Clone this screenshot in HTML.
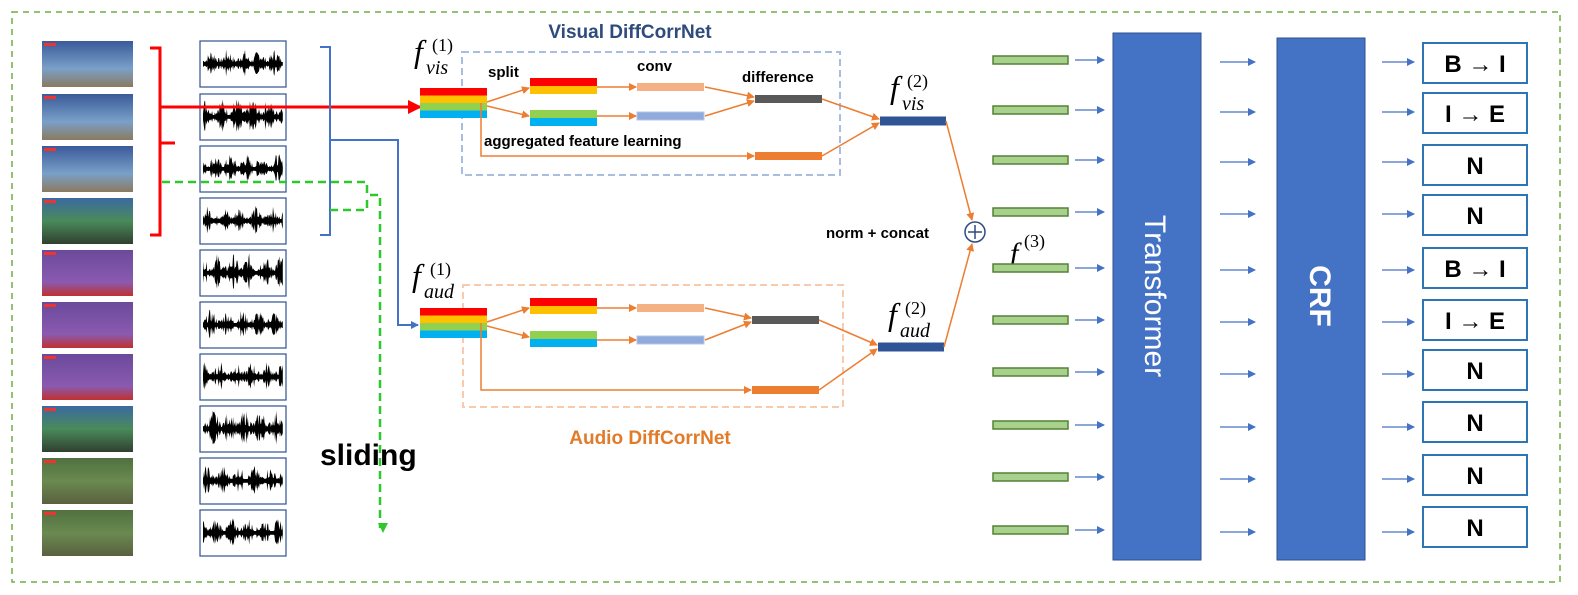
<!DOCTYPE html>
<html><head><meta charset="utf-8"><style>
html,body{margin:0;padding:0;background:#fff;}
svg{display:block;font-family:"Liberation Sans",sans-serif;}
</style></head><body>
<svg id="s" width="1578" height="595" viewBox="0 0 1578 595" xmlns="http://www.w3.org/2000/svg">
<defs>
<marker id="ao" markerWidth="8" markerHeight="8" refX="7" refY="4" orient="auto" markerUnits="userSpaceOnUse"><path d="M0,0 L8,4 L0,8 z" fill="#ed7d31"/></marker>
<marker id="ab" markerWidth="8" markerHeight="8" refX="7" refY="4" orient="auto" markerUnits="userSpaceOnUse"><path d="M0,0 L8,4 L0,8 z" fill="#4472c4"/></marker>
<marker id="ar" markerWidth="14" markerHeight="14" refX="12" refY="7" orient="auto" markerUnits="userSpaceOnUse"><path d="M0,0 L14,7 L0,14 z" fill="#f00"/></marker>
<marker id="ag" markerWidth="10" markerHeight="10" refX="5" refY="8" orient="auto" markerUnits="userSpaceOnUse"><path d="M0,0 L10,5 L0,10 z" fill="#2ec82e"/></marker>
<linearGradient id="t1" x1="0" y1="0" x2="0" y2="1"><stop offset="0" stop-color="#3a5a9a"/><stop offset="0.6" stop-color="#7aa0c8"/><stop offset="1" stop-color="#8a7a60"/></linearGradient>
<linearGradient id="t2" x1="0" y1="0" x2="0" y2="1"><stop offset="0" stop-color="#3a6aa0"/><stop offset="0.5" stop-color="#4a8a5a"/><stop offset="1" stop-color="#304030"/></linearGradient>
<linearGradient id="t3" x1="0" y1="0" x2="0" y2="1"><stop offset="0" stop-color="#6a4a9a"/><stop offset="0.7" stop-color="#8a5ab0"/><stop offset="1" stop-color="#c03030"/></linearGradient>
<linearGradient id="t4" x1="0" y1="0" x2="0" y2="1"><stop offset="0" stop-color="#507040"/><stop offset="0.5" stop-color="#6a8a50"/><stop offset="1" stop-color="#5a6040"/></linearGradient>
</defs>
<rect x="12" y="12" width="1548" height="570" fill="none" stroke="#70ad47" stroke-width="1.5" stroke-dasharray="6,5"/>
<g id="thumbs"></g>
<g id="waves"></g>
<path d="M150,48 H160 V235 H150 M160,143 H175" fill="none" stroke="#f00" stroke-width="3"/>
<line x1="160" y1="107" x2="420" y2="107" stroke="#f00" stroke-width="3" marker-end="url(#ar)"/>
<path d="M320,47 H330 V235 H320 M330,140 H398 V325 H418" fill="none" stroke="#4472c4" stroke-width="2" marker-end="url(#ab)"/>
<path d="M162,182 H367 V195 H380 V528" fill="none" stroke="#2ec82e" stroke-width="2.5" stroke-dasharray="8,5" marker-end="url(#ag)"/>
<path d="M330,210 H367 V195" fill="none" stroke="#2ec82e" stroke-width="2.5" stroke-dasharray="8,5"/>
<text x="320" y="465" font-size="30" font-weight="bold">sliding</text>
<text x="630" y="38" font-size="19" font-weight="bold" fill="#2f4b7c" text-anchor="middle">Visual DiffCorrNet</text>
<rect x="462" y="52" width="378" height="123" fill="none" stroke="#a9bde0" stroke-width="2" stroke-dasharray="7,4"/>
<g font-family="Liberation Serif" font-style="italic">
<text x="414" y="62" font-size="32">f</text><text x="426" y="74" font-size="20">vis</text>
<text x="412" y="286" font-size="32">f</text><text x="424" y="298" font-size="20">aud</text>
<text x="890" y="98" font-size="32">f</text><text x="902" y="110" font-size="20">vis</text>
<text x="888" y="325" font-size="32">f</text><text x="900" y="337" font-size="20">aud</text>
<text x="1010" y="263" font-size="30">f</text>
</g>
<g font-family="Liberation Serif" font-size="18">
<text x="432" y="51">(1)</text><text x="430" y="275">(1)</text>
<text x="907" y="87">(2)</text><text x="905" y="314">(2)</text>
<text x="1024" y="247">(3)</text>
</g>
<g id="vis"></g>
<text x="488" y="77" font-size="15" font-weight="bold">split</text>
<text x="637" y="71" font-size="15" font-weight="bold">conv</text>
<text x="742" y="82" font-size="15" font-weight="bold">difference</text>
<text x="484" y="146" font-size="15" font-weight="bold">aggregated feature learning</text>
<rect x="463" y="285" width="380" height="122" fill="none" stroke="#f8cbad" stroke-width="2" stroke-dasharray="7,4"/>
<text x="650" y="444" font-size="19" font-weight="bold" fill="#e07b2a" text-anchor="middle">Audio DiffCorrNet</text>
<g id="aud"></g>
<text x="826" y="238" font-size="15" font-weight="bold">norm + concat</text>
<circle cx="975" cy="232" r="10" fill="#fff" stroke="#2f4b7c" stroke-width="1.5"/>
<path d="M968,232 H982 M975,225 V239" stroke="#2f4b7c" stroke-width="1.5"/>
<line x1="946" y1="121" x2="972" y2="220" stroke="#ed7d31" stroke-width="1.5" marker-end="url(#ao)"/>
<line x1="944" y1="347" x2="972" y2="244" stroke="#ed7d31" stroke-width="1.5" marker-end="url(#ao)"/>
<g id="right"></g>
<rect x="1113" y="33" width="88" height="527" fill="#4472c4" stroke="#2f528f"/>
<text transform="translate(1145,296) rotate(90)" font-size="30" fill="#fff" text-anchor="middle">Transformer</text>
<rect x="1277" y="38" width="88" height="522" fill="#4472c4" stroke="#2f528f"/>
<text transform="translate(1310,296) rotate(90)" font-size="30" fill="#fff" text-anchor="middle" font-weight="bold">CRF</text>
</svg>
<script>
var NS="http://www.w3.org/2000/svg";
function el(p,t,a){var e=document.createElementNS(NS,t);for(var k in a)e.setAttribute(k,a[k]);p.appendChild(e);return e;}
var seed=7;function rnd(){seed=(seed*9301+49297)%233280;return seed/233280;}
var th=document.getElementById('thumbs'),wv=document.getElementById('waves');
var ys=[41,94,146,198,250,302,354,406,458,510];
var g=['t1','t1','t1','t2','t3','t3','t3','t2','t4','t4'];
ys.forEach(function(y,i){
 el(th,'rect',{x:42,y:y,width:91,height:46,fill:'url(#'+g[i]+')'});
 el(th,'rect',{x:44,y:y+2,width:12,height:3,fill:'#e33'});
 el(wv,'rect',{x:200,y:y,width:86,height:46,fill:'#fff',stroke:'#2f528f','stroke-width':1.2});
 var cy=y+23,amp=(i%3==1)?20:16;
 var pts=[];for(var x=203;x<=283;x+=0.7){var env=0.35+0.65*Math.pow(Math.abs(Math.sin(x/5+i*1.3)),2);var a=amp*env*(0.2+0.8*Math.pow(rnd(),1.5));pts.push([x,Math.max(2,a)]);}
 var d='M'+pts.map(function(p){return p[0].toFixed(1)+','+(cy-p[1]).toFixed(1);}).join(' L')+' L'+pts.slice().reverse().map(function(p){return p[0].toFixed(1)+','+(cy+p[1]*0.85).toFixed(1);}).join(' L')+'Z';
 el(wv,'path',{d:d,fill:'#000'});
});
function stack(p,x,y){var c=['#f00','#ffc000','#92d050','#00b0f0'];c.forEach(function(col,i){el(p,'rect',{x:x,y:y+i*7.5,width:67,height:7.5,fill:col});});}
function pair(p,x,y,c1,c2){el(p,'rect',{x:x,y:y,width:67,height:8,fill:c1});el(p,'rect',{x:x,y:y+8,width:67,height:8,fill:c2});}
function bar(p,x,y,c,w,h){el(p,'rect',{x:x,y:y-(h||8)/2,width:w||67,height:h||8,fill:c});}
function ar(p,x1,y1,x2,y2){el(p,'line',{x1:x1,y1:y1,x2:x2,y2:y2,stroke:'#ed7d31','stroke-width':1.5,'marker-end':'url(#ao)'});}
function net(id,sy,b1,b2,conv1,conv2,dif,org,out,dx,ox){
 var p=document.getElementById(id);
 stack(p,420,sy);
 pair(p,530,b1,'#f00','#ffc000');pair(p,530,b2,'#92d050','#00b0f0');
 ar(p,487,sy+14,529,b1+10);ar(p,487,sy+18,529,b2+6);
 bar(p,637,conv1,'#f4b183');bar(p,637,conv2,'#8faadc');
 el(p,'rect',{x:637,y:conv2-4,width:67,height:8,fill:'none',stroke:'#b4c7e7'});
 ar(p,597,conv1,636,conv1);ar(p,597,conv2,636,conv2);
 bar(p,dx,dif,'#595959');ar(p,705,conv1,dx-1,dif-2);ar(p,705,conv2,dx-1,dif+2);
 bar(p,dx,org,'#ed7d31');
 el(p,'path',{d:'M481,'+(sy+15)+' V'+org+' H'+(dx-1),fill:'none',stroke:'#ed7d31','stroke-width':1.5,'marker-end':'url(#ao)'});
 bar(p,ox,out,'#2f5597',66,9);
 ar(p,dx+67,dif,ox-1,out-2);ar(p,dx+67,org,ox-1,out+2);
}
net('vis',88,78,110,87,116,99,156,121,755,880);
net('aud',308,298,331,308,340,320,390,347,752,878);
var r=document.getElementById('right');
var gy=[60,110,160,212,268,320,372,425,477,530];
gy.forEach(function(y){
 el(r,'rect',{x:993,y:y-4,width:75,height:8,fill:'#a9d18e',stroke:'#548235','stroke-width':1.5});
 el(r,'line',{x1:1075,y1:y,x2:1104,y2:y,stroke:'#4472c4','stroke-width':1.2,'marker-end':'url(#ab)'});
 el(r,'line',{x1:1220,y1:y+2,x2:1255,y2:y+2,stroke:'#4472c4','stroke-width':1.2,'marker-end':'url(#ab)'});
 el(r,'line',{x1:1382,y1:y+2,x2:1414,y2:y+2,stroke:'#4472c4','stroke-width':1.2,'marker-end':'url(#ab)'});
});
var oy=[43,93,145,195,248,300,350,402,455,507];
var lab=['B \u2192 I','I \u2192 E','N','N','B \u2192 I','I \u2192 E','N','N','N','N'];
oy.forEach(function(y,i){
 el(r,'rect',{x:1423,y:y,width:104,height:40,fill:'#fff',stroke:'#2e75b6','stroke-width':2});
 var t=el(r,'text',{x:1475,y:y+29,'font-size':24,'font-weight':'bold','text-anchor':'middle'});t.textContent=lab[i];
});
</script>
</body></html>
